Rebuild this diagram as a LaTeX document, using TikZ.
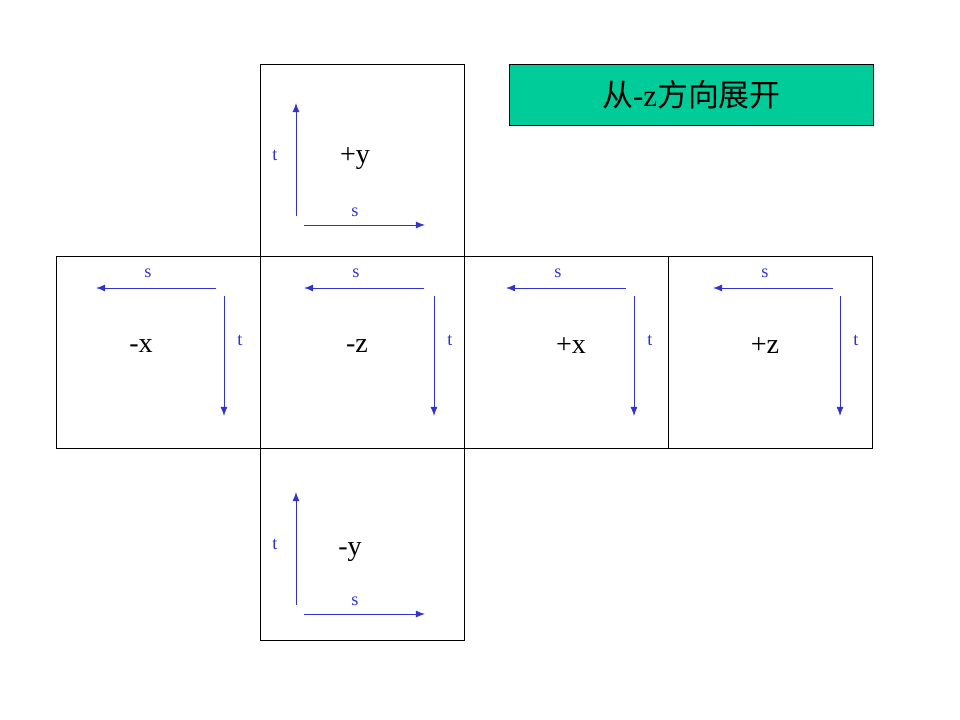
\documentclass[tikz,border=0pt]{standalone}
\usepackage{fontspec}
\setmainfont{Liberation Serif}
\newfontfamily\cjk{Noto Sans CJK SC}
\usetikzlibrary{arrows.meta}
\definecolor{axisblue}{RGB}{51,51,204}
\definecolor{titlegreen}{RGB}{0,204,153}

\begin{document}
\begin{tikzpicture}[x=0.025cm,y=-0.025cm]
        \tikzset{face/.style={draw,line width=0.7pt,anchor=north west,inner sep=0pt,
                minimum width=5.1cm,minimum height=4.8cm},
            axis/.style={draw=axisblue,line width=0.7pt,-{Latex[length=6.5pt,width=5pt]}},
            axlbl/.style={text=axisblue,inner sep=0pt,font=\fontsize{13}{14}\selectfont},
            facelbl/.style={inner sep=0pt,font=\fontsize{20}{21}\selectfont},
            title/.style={draw,fill=titlegreen,line width=0.7pt,inner sep=0pt,
                minimum width=9.075cm,minimum height=1.5cm,font=\fontsize{22}{23}\selectfont}}
        \useasboundingbox (0,0) rectangle (960,720);
        \node[title] (title) at (691.5,95) {\raisebox{-2pt}{{\cjk 从}-z{\cjk 方向展开}}};
        % middle row
        \foreach \f/\x/\a/\b/\c/\lab/\dx in {negx/56/160/40/168/-x/85, negz/260/164/44/174/-z/97,
                posx/464/162/42/170/+x/107, posz/668/165/45/172/+z/97} {
            \node[face] (\f) at (\x,256) {};
            \coordinate (\f-s0) at (\x+\a,288);
            \coordinate (\f-s1) at (\x+\b,288);
            \coordinate (\f-t0) at (\x+\c,296);
            \coordinate (\f-t1) at (\x+\c,416);
            \draw[axis] (\f-s0) -- (\f-s1);
            \draw[axis] (\f-t0) -- (\f-t1);
            \node[axlbl] (\f-s) at (\x+\b+52,273) {s};
            \node[axlbl] (\f-t) at (\x+\c+16,340) {t};
            \node[facelbl] (\f-lab) at (\x+\dx,346) {\lab};
        }
        % top and bottom
        \foreach \f/\y/\o/\lab/\dx/\dy in {posy/64/0/+y/95/95, negy/448/5/-y/90/104} {
            \node[face] (\f) at (260,\y) {};
            \coordinate (\f-t0) at (296,\y+\o+152);
            \coordinate (\f-t1) at (296,\y+\o+39);
            \coordinate (\f-s0) at (304,\y+\o+161);
            \coordinate (\f-s1) at (425,\y+\o+161);
            \draw[axis] (\f-t0) -- (\f-t1);
            \draw[axis] (\f-s0) -- (\f-s1);
            \node[axlbl] (\f-t) at (275,\y+\o+91) {t};
            \node[axlbl] (\f-s) at (355,\y+\o+148) {s};
            \node[facelbl] (\f-lab) at (260+\dx,\y+\dy) {\lab};
        }
    \end{tikzpicture}
\end{document}
